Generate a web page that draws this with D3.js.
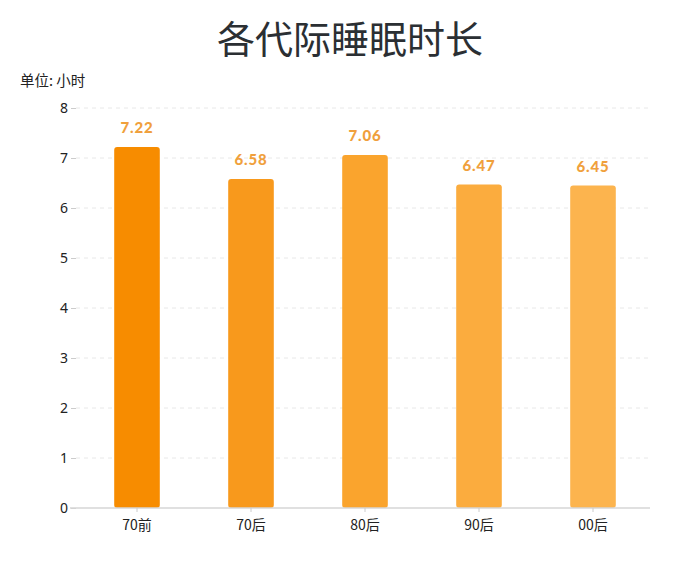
<!DOCTYPE html>
<html><head><meta charset="utf-8">
<script src="https://cdn.jsdelivr.net/npm/d3@7"></script>
<style>body{margin:0;background:#fff;font-family:"Noto Sans CJK SC","Noto Sans",sans-serif;}</style>
</head><body>
<svg id="c" width="700" height="578"></svg>
<script>
const categories = ["70前","70后","80后","90后","00后"];
const values = [7.22, 6.58, 7.06, 6.47, 6.45];
const colors = ["#F78C00","#F8991C","#FAA42D","#FBAC3E","#FCB44E"];
const yTicks = [0,1,2,3,4,5,6,7,8];

const svg = d3.select("#c");
const x = d3.scaleBand().domain(categories).range([80,650]).paddingInner(0.6).paddingOuter(0.3);
const y = d3.scaleLinear().domain([0,8]).range([508,108]);

svg.append("text").attr("x",350).attr("y",53).attr("text-anchor","middle")
  .attr("font-size",38).attr("font-weight","normal").attr("fill","#2b2f33").text("各代际睡眠时长");
svg.append("text").attr("x",20).attr("y",86).attr("font-size",14.5).attr("fill","#222").text("单位: 小时");

// grid
svg.append("g").selectAll("line").data(yTicks.filter(d=>d>0)).join("line")
  .attr("x1",76).attr("x2",650).attr("y1",d=>y(d)).attr("y2",d=>y(d))
  .attr("stroke","#e8e8e8").attr("stroke-dasharray","4,4");

const ya = svg.append("g").attr("transform","translate(76,0)")
  .call(d3.axisLeft(y).tickValues(yTicks).tickSize(5).tickPadding(3));
ya.select(".domain").remove();
ya.selectAll(".tick line").attr("stroke","#ccc");
ya.selectAll("text").attr("font-size",14).attr("fill","#222").attr("font-family","Noto Sans, sans-serif");

svg.selectAll("rect.bar").data(values).join("rect").attr("class","bar")
  .attr("x",(d,i)=>x(categories[i])).attr("width",x.bandwidth())
  .attr("y",d=>y(d)).attr("height",d=>y(0)-y(d)).attr("rx",3)
  .attr("fill",(d,i)=>colors[i]);

svg.selectAll("text.val").data(values).join("text").attr("class","val")
  .attr("x",(d,i)=>x(categories[i])+x.bandwidth()/2).attr("y",d=>y(d)-14)
  .attr("text-anchor","middle").attr("font-size",15).attr("font-weight",900)
  .attr("fill","#F0A03C").attr("font-family","Lato, sans-serif").attr("letter-spacing","0.8")
  .text(d=>d.toFixed(2));

const xa = svg.append("g").attr("transform","translate(0,508)")
  .call(d3.axisBottom(x).tickSize(4).tickPadding(8));
xa.select(".domain").attr("d","M70,0H650").attr("stroke","#d6d6d6").attr("stroke-width",1.5);
xa.selectAll(".tick line").attr("stroke","#ccc");
xa.selectAll("text").attr("font-size",14).attr("fill","#222").attr("font-family","Noto Sans CJK SC, sans-serif");
</script>
</body></html>
